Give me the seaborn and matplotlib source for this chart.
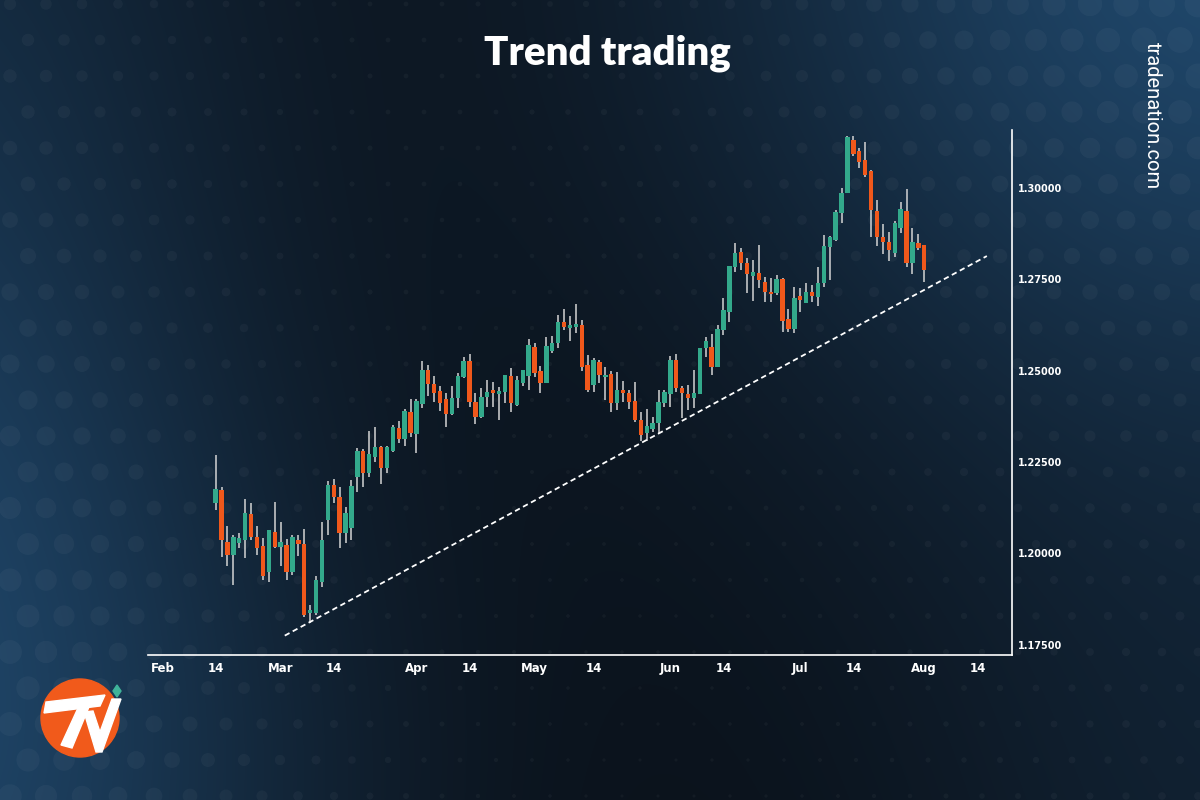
import numpy as np
import pandas as pd
import matplotlib
matplotlib.use("Agg")
import matplotlib.pyplot as plt
import seaborn as sns
from matplotlib.patches import Circle, Polygon
from matplotlib import font_manager

# daily candles, GBP/USD-like
dates = pd.bdate_range("2023-02-14", periods=121)
opens = [1.2138, 1.2174, 1.2032, 1.1996, 1.2029, 1.2037, 1.2108, 1.2046, 1.2021, 1.1950,
         1.2059, 1.2018, 1.2024, 1.1950, 1.2037, 1.2026, 1.1838, 1.1838, 1.1922, 1.2092,
         1.2188, 1.2155, 1.2056, 1.2070, 1.2210, 1.2281, 1.2221, 1.2264, 1.2292, 1.2234,
         1.2281, 1.2344, 1.2314, 1.2387, 1.2327, 1.2409, 1.2502, 1.2464, 1.2445, 1.2423,
         1.2382, 1.2426, 1.2483, 1.2527, 1.2415, 1.2374, 1.2428, 1.2448, 1.2437, 1.2442,
         1.2486, 1.2407, 1.2467, 1.2486, 1.2565, 1.2499, 1.2467, 1.2554, 1.2576, 1.2634,
         1.2617, 1.2620, 1.2625, 1.2516, 1.2461, 1.2524, 1.2483, 1.2491, 1.2412, 1.2448,
         1.2439, 1.2417, 1.2366, 1.2330, 1.2341, 1.2357, 1.2412, 1.2437, 1.2530, 1.2453,
         1.2437, 1.2426, 1.2437, 1.2562, 1.2565, 1.2510, 1.2612, 1.2661, 1.2784, 1.2825,
         1.2795, 1.2759, 1.2768, 1.2743, 1.2716, 1.2713, 1.2751, 1.2642, 1.2614, 1.2705,
         1.2685, 1.2716, 1.2702, 1.2740, 1.2839, 1.2858, 1.2932, 1.2986, 1.3131, 1.3101,
         1.3077, 1.3047, 1.2937, 1.2866, 1.2852, 1.2822, 1.2891, 1.2937, 1.2795, 1.2850,
         1.2844]
highs = [1.2270, 1.2182, 1.2076, 1.2051, 1.2056, 1.2149, 1.2138, 1.2076, 1.2043, 1.2065,
         1.2141, 1.2087, 1.2040, 1.2051, 1.2051, 1.2067, 1.1860, 1.1939, 1.2087, 1.2199,
         1.2204, 1.2182, 1.2128, 1.2201, 1.2289, 1.2286, 1.2335, 1.2346, 1.2294, 1.2294,
         1.2352, 1.2363, 1.2396, 1.2423, 1.2423, 1.2527, 1.2516, 1.2486, 1.2458, 1.2439,
         1.2458, 1.2494, 1.2538, 1.2546, 1.2439, 1.2453, 1.2475, 1.2469, 1.2456, 1.2489,
         1.2508, 1.2486, 1.2502, 1.2587, 1.2576, 1.2513, 1.2592, 1.2595, 1.2653, 1.2669,
         1.2650, 1.2683, 1.2639, 1.2543, 1.2535, 1.2530, 1.2510, 1.2499, 1.2497, 1.2472,
         1.2448, 1.2469, 1.2387, 1.2396, 1.2374, 1.2448, 1.2448, 1.2540, 1.2546, 1.2458,
         1.2461, 1.2502, 1.2562, 1.2592, 1.2601, 1.2625, 1.2699, 1.2787, 1.2850, 1.2836,
         1.2809, 1.2803, 1.2844, 1.2757, 1.2754, 1.2762, 1.2754, 1.2669, 1.2729, 1.2727,
         1.2740, 1.2735, 1.2784, 1.2871, 1.2869, 1.2940, 1.3000, 1.3142, 1.3142, 1.3109,
         1.3126, 1.3049, 1.2967, 1.2902, 1.2880, 1.2910, 1.2962, 1.2997, 1.2891, 1.2874,
         1.2844]
lows = [1.2119, 1.1991, 1.1966, 1.1914, 1.2015, 1.1988, 1.2037, 1.1996, 1.1928, 1.1922,
        1.2015, 1.1966, 1.1928, 1.1942, 1.1994, 1.1827, 1.1810, 1.1832, 1.1909, 1.2051,
        1.2138, 1.2015, 1.2029, 1.2037, 1.2169, 1.2182, 1.2210, 1.2251, 1.2190, 1.2221,
        1.2278, 1.2303, 1.2294, 1.2319, 1.2275, 1.2398, 1.2431, 1.2415, 1.2390, 1.2346,
        1.2379, 1.2398, 1.2480, 1.2401, 1.2355, 1.2371, 1.2401, 1.2401, 1.2366, 1.2412,
        1.2387, 1.2404, 1.2458, 1.2448, 1.2483, 1.2439, 1.2467, 1.2549, 1.2562, 1.2612,
        1.2582, 1.2603, 1.2499, 1.2442, 1.2442, 1.2467, 1.2420, 1.2387, 1.2393, 1.2415,
        1.2396, 1.2360, 1.2308, 1.2308, 1.2333, 1.2330, 1.2401, 1.2401, 1.2442, 1.2371,
        1.2393, 1.2398, 1.2437, 1.2538, 1.2489, 1.2510, 1.2598, 1.2634, 1.2770, 1.2776,
        1.2713, 1.2691, 1.2727, 1.2688, 1.2688, 1.2707, 1.2606, 1.2606, 1.2603, 1.2661,
        1.2685, 1.2688, 1.2677, 1.2729, 1.2748, 1.2855, 1.2904, 1.2986, 1.3088, 1.3055,
        1.3030, 1.2866, 1.2841, 1.2819, 1.2800, 1.2811, 1.2877, 1.2784, 1.2765, 1.2830,
        1.2743]
closes = [1.2177, 1.2037, 1.1996, 1.2046, 1.2043, 1.2111, 1.2046, 1.2015, 1.1939, 1.2065,
          1.2018, 1.2032, 1.1950, 1.2046, 1.2026, 1.1832, 1.1846, 1.1928, 1.2037, 1.2188,
          1.2155, 1.2056, 1.2111, 1.2185, 1.2281, 1.2221, 1.2273, 1.2292, 1.2234, 1.2292,
          1.2346, 1.2314, 1.2390, 1.2330, 1.2417, 1.2502, 1.2464, 1.2439, 1.2412, 1.2382,
          1.2426, 1.2486, 1.2527, 1.2415, 1.2374, 1.2428, 1.2442, 1.2439, 1.2445, 1.2489,
          1.2412, 1.2475, 1.2502, 1.2571, 1.2494, 1.2467, 1.2568, 1.2576, 1.2634, 1.2620,
          1.2625, 1.2628, 1.2510, 1.2448, 1.2530, 1.2489, 1.2489, 1.2412, 1.2448, 1.2439,
          1.2415, 1.2366, 1.2324, 1.2349, 1.2357, 1.2415, 1.2442, 1.2530, 1.2453, 1.2439,
          1.2426, 1.2439, 1.2562, 1.2582, 1.2510, 1.2614, 1.2666, 1.2787, 1.2822, 1.2795,
          1.2765, 1.2770, 1.2748, 1.2716, 1.2710, 1.2751, 1.2636, 1.2614, 1.2699, 1.2694,
          1.2716, 1.2705, 1.2740, 1.2841, 1.2866, 1.2934, 1.2986, 1.3140, 1.3093, 1.3071,
          1.3036, 1.2940, 1.2866, 1.2852, 1.2830, 1.2904, 1.2943, 1.2795, 1.2852, 1.2836,
          1.2776]

tick_dates = ["2023-02-01", "2023-02-14", "2023-03-01", "2023-03-14", "2023-04-01", "2023-04-14",
              "2023-05-01", "2023-05-14", "2023-06-01", "2023-06-14", "2023-07-01", "2023-07-14",
              "2023-08-01", "2023-08-14"]
tick_labels = ["Feb", "14", "Mar", "14", "Apr", "14", "May", "14", "Jun", "14", "Jul", "14", "Aug", "14"]
price_ticks = [1.175, 1.200, 1.225, 1.250, 1.275, 1.300]

# support line (in trading-day positions)
trend_pos = [11.7, 130.6]
trend_price = [1.1775, 1.2814]

UP = "#33a98b"
DOWN = "#f0581b"
WICK = "#d4d4d4"

sns.set_theme(style="dark", rc={"axes.facecolor": "none", "figure.facecolor": "#0a1018"})
installed = {f.name for f in font_manager.fontManager.ttflist}
narrow = "Liberation Sans Narrow" if "Liberation Sans Narrow" in installed else "DejaVu Sans"

df = pd.DataFrame({"date": dates, "open": opens, "high": highs, "low": lows, "close": closes})
df["pos"] = np.arange(len(df))
df["up"] = df["close"] >= df["open"]

fig = plt.figure(figsize=(12, 8), dpi=100)

# background: dark navy with blue glow and halftone dots
bg = fig.add_axes([0, 0, 1, 1], zorder=0)
H, W = 800, 1200
yy, xx = np.mgrid[0:H, 0:W]


def blob(cx, cy, s):
    return np.exp(-((xx - cx) ** 2 + (yy - cy) ** 2) / (2 * s ** 2))


glow = (1.0 * blob(1260, -90, 400) + 0.55 * blob(-140, 400, 270) + 0.75 * blob(-80, 860, 300)
        + 0.25 * blob(1260, 880, 280) + 0.35 * blob(-80, -80, 250))
glow = np.clip(glow, 0, 1)
base = np.array([9, 14, 21]) / 255
hi = np.array([32, 72, 108]) / 255
img = base + glow[..., None] * (hi - base)
bg.imshow(img, extent=(0, W, H, 0), aspect="auto", interpolation="bilinear")

gx, gy = np.meshgrid(np.arange(10, W, 36), np.arange(4, H, 36))
gx = gx + (np.arange(gx.shape[0])[:, None] % 2) * 18
g = glow[np.clip(gy, 0, H - 1), np.clip(gx, 0, W - 1)]
r = 1.0 + 13 * g ** 1.3
bg.scatter(gx.ravel(), gy.ravel(), s=(r.ravel() * 0.72 * 2) ** 2, color="white",
           alpha=0.035, linewidths=0)

# logo
bg.add_patch(Circle((80, 718), 39, color="#f15a1b"))
bg.add_patch(Polygon([(46, 702), (105, 695), (100, 706), (44, 713)], color="white"))
bg.add_patch(Polygon([(78, 708), (89, 707), (72, 748), (61, 745)], color="white"))
bg.add_patch(Polygon([(84, 712), (93, 711), (100, 732), (112, 699), (121, 699), (102, 752), (96, 752)],
                     color="white"))
bg.add_patch(Polygon([(117, 685), (121, 691), (117, 697), (113, 691)], color="#3fb39a"))

bg.set_xlim(0, W)
bg.set_ylim(H, 0)
bg.axis("off")

# chart
ax = fig.add_axes([148 / 1200, 1 - 655 / 800, 864 / 1200, 525 / 800], zorder=1)
ax.patch.set_alpha(0)

ax.vlines(df["pos"], df["low"], df["high"], color=WICK, lw=1.1, zorder=2)
body_h = np.maximum((df["close"] - df["open"]).abs(), 0.0003)
body_bottom = np.minimum(df["open"], df["close"])
colors = np.where(df["up"], UP, DOWN)
ax.bar(df["pos"], body_h, bottom=body_bottom, width=0.74, color=colors, linewidth=0, zorder=3)

sns.lineplot(x=trend_pos, y=trend_price, ax=ax, color="white", lw=1.3,
             linestyle=(0, (3, 2)), zorder=4)

tick_pos = [np.busday_count("2023-02-14", d) for d in tick_dates]
ax.set_xticks(tick_pos)
ax.set_xticklabels(tick_labels, fontsize=8.5, fontweight="bold", color="white", family=narrow)
ax.set_xlim(-11.46, 134.86)

ax.yaxis.tick_right()
ax.set_yticks(price_ticks)
ax.set_yticklabels([f"{v:.5f}" for v in price_ticks], fontsize=7, fontweight="bold",
                   color="white", family="DejaVu Sans")
ax.set_ylim(1.1722, 1.3159)
ax.tick_params(axis="both", length=0)
ax.tick_params(axis="x", pad=5)
ax.tick_params(axis="y", pad=4)
ax.grid(False)

for side in ["left", "top"]:
    ax.spines[side].set_visible(False)
for side in ["right", "bottom"]:
    ax.spines[side].set_visible(True)
    ax.spines[side].set_color("white")
    ax.spines[side].set_linewidth(1.2)

fig.text(607 / 1200, 1 - 53 / 800, "Trend trading", ha="center", va="center", fontsize=29,
         fontweight="heavy", color="white", family=["Lato", "DejaVu Sans"])
fig.text(1152 / 1200, 1 - 116 / 800, "tradenation.com", ha="center", va="center", rotation=270,
         fontsize=14.5, color="white", family=["Roboto", "DejaVu Sans"])

fig.savefig("out.png", dpi=100)
